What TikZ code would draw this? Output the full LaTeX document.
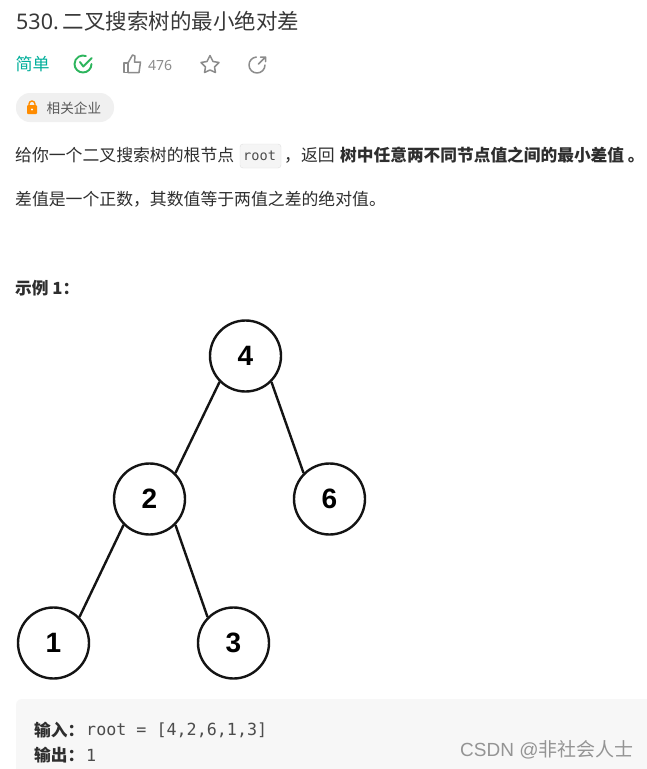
\documentclass[tikz,border=0pt]{standalone}
\usepackage{fontspec}
\setmainfont{Noto Sans}
\setmonofont{DejaVu Sans Mono}
\newfontfamily\cjk{Noto Sans CJK SC}
\newfontfamily\digitfont{Liberation Sans}
\usetikzlibrary{positioning,shapes.geometric}

\begin{document}
\begin{tikzpicture}[
    x=1pt, y=-1pt,
    tree/.style={
		circle,
		draw=black!92,
		line width=2.4pt,
		minimum size=71pt,
		inner sep=0pt,
		font=\digitfont\fontsize{28}{28}\selectfont\bfseries
	},
	link/.style={
		draw=black!92,
		line width=2.4pt
	},
	body/.style={
		anchor=west,
		inner sep=0pt,
		text=black!82,
		font=\cjk\fontsize{16.85}{20}\selectfont
	},
	strong/.style={
		body,
		font=\cjk\fontsize{16.7}{20}\selectfont\bfseries
	},
	code/.style={
		anchor=west,
		inner sep=0pt,
		text=black!70,
		font=\ttfamily\fontsize{16.7}{20}\selectfont
	},
	icon/.style={
		draw=black!45,
		line width=1.5pt,
		line join=round,
		line cap=round
	},
	okicon/.style={
		icon,
		draw={rgb,255:red,45;green,181;blue,93},
		line width=1.9pt
	}
  ]
    \useasboundingbox (0,0) rectangle (647,769);
    \fill[white] (0,0) rectangle (647,769);

    % header
  \node [body, text=black!78, font=\cjk\fontsize{21.5}{24}\selectfont] (title) at (16,21) {\fontspec{Noto Sans}530.\hspace{4pt}\cjk 二叉搜索树的最小绝对差};
  \node [body, text={rgb,255:red,0;green,175;blue,155}, font=\cjk\fontsize{17}{20}\selectfont] (level) at (15.5,64.5) {简单};
  \node [body, text=black!45, font=\fontsize{14}{16}\selectfont] (likes) at (148,65) {476};

  % icons
  \draw [okicon] (91.5,64) arc [start angle=0, end angle=290, radius=8.5];
  \draw [okicon] (80,62) -- (83.3,66.5) -- (91.7,58);
  \draw [icon] (124,63) rectangle (128,72.5);
  \draw [icon] (128,63) -- (132.5,55) -- (135,56) -- (134.5,62) -- (140.5,62) -- (139,72.5) -- (128,72.5);
  \draw [icon] (210,55.5) -- (213,61.5) -- (219,62.5) -- (214.5,67) -- (215.5,72.5) -- (210,70) -- (204.5,72.5) -- (205.5,67) -- (201,62.5) -- (207,61.5) -- cycle;
  \draw [icon] (265,65) arc [start angle=0, end angle=265, radius=8];
  \draw [icon] (258.5,64) -- (265.5,57) (260.5,57) -- (265.5,57) -- (265.5,61.5);

  % tag with lock
  \fill [black!6, rounded corners=14pt] (16,93) rectangle (114,122);
  \fill [orange!90!yellow, rounded corners=1pt] (27,105) rectangle (37,114);
  \draw [orange!90!yellow, line width=1.4pt] (29,105) -- (29,104) arc [start angle=180, end angle=360, radius=3] -- (35,105);
  \fill [white] (32,109.5) circle [radius=1.2];
  \node [body, text=black!65, font=\cjk\fontsize{13.6}{16}\selectfont] (tag) at (46.5,108) {相关企业};

  % description
  \node [body] (line1) at (15,155.5) {给你一个二叉搜索树的根节点};
  \fill [black!4, draw=black!12, rounded corners=3pt] (240,144) rectangle (281,168);
  \node [code, font=\ttfamily\fontsize{13.6}{16}\selectfont] (rootword) at (243,156) {root};
  \node [body] (line1b) at (284,155.5) {，返回};
  \node [strong] (line1c) at (340,155.5) {树中任意两不同节点值之间的最小差值 。};
  \node [body] (line2) at (15,199) {差值是一个正数，其数值等于两值之差的绝对值。};
  \node [strong] (example) at (15,288) {示例 1：};

    % We start by placing the tree
  \node [tree] (n4) at (245.5,356) {4};
  \node [tree] (n2) at (149.5,499) {2};
  \node [tree] (n6) at (329.5,499) {6};
  \node [tree] (n1) at (53.5,643) {1};
  \node [tree] (n3) at (233.5,643) {3};

  \draw [link] (n4.225) -- (n2.45);
  \draw [link] (n4.-45) -- (n6.135);
  \draw [link] (n2.225) -- (n1.45);
  \draw [link] (n2.-45) -- (n3.135);

  % example box
  \fill [black!3, rounded corners=6pt] (16,699) -- (660,699) -- (660,780) -- (16,780) -- cycle;
  \node [strong] (inlabel) at (34,730) {输入：};
  \node [code] (invalue) at (86,730) {root = [4,2,6,1,3]};
  \node [strong] (outlabel) at (34,755) {输出：};
  \node [code] (outvalue) at (86,755) {1};
  \node [body, text=black!42, font=\cjk\fontsize{19}{22}\selectfont] (mark) at (460,750) {\fontspec{Liberation Sans}CSDN @\cjk 非社会人士};
\end{tikzpicture}
\end{document}
